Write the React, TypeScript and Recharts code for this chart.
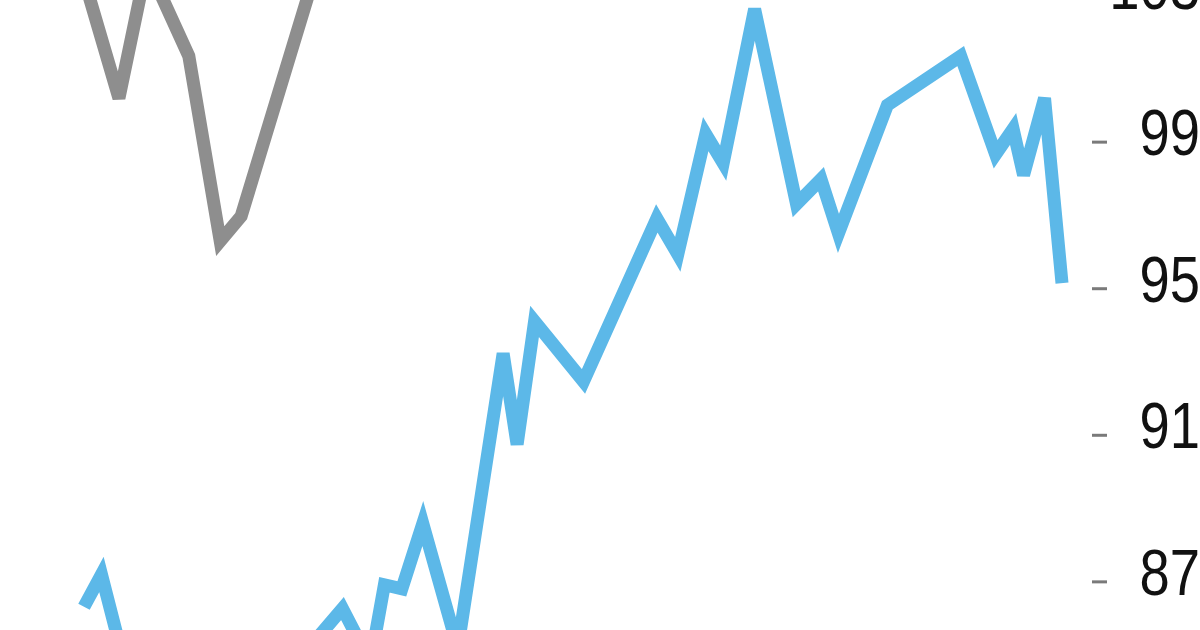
import React from "react";
import { LineChart, Line, XAxis, YAxis } from "recharts";

// calendar-day index of each observation
const blueDays = [0, 5, 12, 20, 32, 44, 59, 74, 82, 86, 91, 97, 107, 120, 124, 129, 143, 164, 170, 178, 183, 192, 204, 211, 216, 230, 251, 261, 266, 269, 275, 280];
const blueValues = [86.32, 87.2, 84.6, 84.0, 84.8, 84.2, 84.6, 86.27, 84.8, 86.92, 86.81, 88.59, 85.2, 93.23, 90.75, 94.11, 92.47, 96.92, 95.94, 99.22, 98.43, 102.63, 97.31, 97.99, 96.51, 100.01, 101.35, 98.67, 99.36, 98.1, 100.2, 95.15];

const grayDays = [0, 10, 18, 30, 39, 45, 68];
const grayValues = [103.45, 100.2, 103.86, 101.35, 96.3, 96.98, 104.2];

const yTicks = [79, 83, 87, 91, 95, 99, 103, 107];

const blueData = blueDays.map((d, i) => ({ day: d, v: blueValues[i] }));
const grayData = grayDays.map((d, i) => ({ day: d, v: grayValues[i] }));

const Tick = (props: any) => {
  const { x, y, payload } = props;
  return (
    <g>
      <line x1={x + 30} x2={x + 45} y1={y} y2={y} stroke="#7a7a7a" strokeWidth={3} />
      <g transform={`translate(${x + 138},${y + 13}) scale(0.85,1)`}>
        <text
          x={0}
          y={0}
          textAnchor="end"
          fill="#111"
          fontSize={64}
          fontFamily="'Liberation Sans', Arial, sans-serif"
        >
          {payload.value}
        </text>
      </g>
    </g>
  );
};

export default function App() {
  return (
    <div
      style={{
        position: "fixed",
        top: 0,
        left: 0,
        width: 1200,
        height: 630,
        overflow: "hidden",
        background: "#fff",
      }}
    >
      <div style={{ position: "absolute", top: -151, left: 0 }}>
        <LineChart
          width={1262}
          height={1026}
          margin={{ top: 0, right: 0, bottom: 0, left: 84 }}
        >
          <XAxis type="number" dataKey="day" domain={[0, 280]} hide allowDuplicatedCategory={false} />
          <YAxis
            orientation="right"
            domain={[79, 107]}
            ticks={yTicks}
            width={200}
            tickSize={0}
            tickMargin={0}
            axisLine={false}
            tickLine={false}
            tick={<Tick />}
            interval={0}
          />
          <Line
            data={grayData}
            dataKey="v"
            type="linear"
            stroke="#8e8e8e"
            strokeWidth={13}
            dot={false}
            isAnimationActive={false}
          />
          <Line
            data={blueData}
            dataKey="v"
            type="linear"
            stroke="#5cb8e8"
            strokeWidth={13}
            dot={false}
            isAnimationActive={false}
          />
        </LineChart>
      </div>
    </div>
  );
}
